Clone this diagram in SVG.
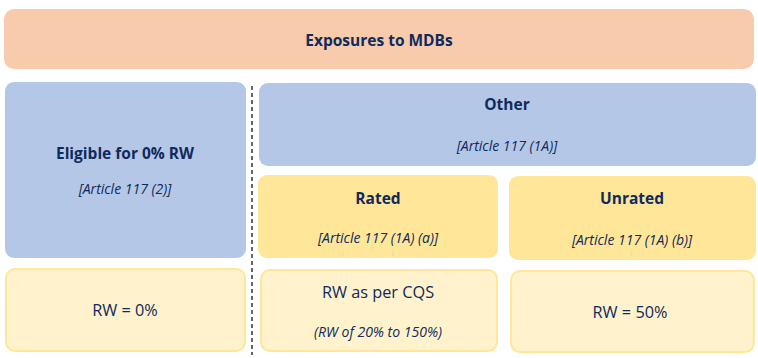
<svg xmlns="http://www.w3.org/2000/svg" width="758" height="358" viewBox="0 0 758 358">
<style>
text{font-family:"Open Sans","Noto Sans",sans-serif;fill:#0f2a5c;text-anchor:middle}
.b{font-weight:bold;font-size:15.5px}
.i{font-style:italic;font-size:14px}
.r{font-size:16.3px}
.peach{fill:#f8cbad}
.blue{fill:#b4c7e7}
.yel{fill:#ffe699}
.lt{fill:#fff2cc;stroke:#ffe699;stroke-width:2}
</style>
<rect width="758" height="358" fill="#fff"/>
<g id="top"><rect class="peach" x="4" y="9" width="750" height="60" rx="10"/><text class="b" x="379" y="46">Exposures to MDBs</text></g>
<g id="eligible"><rect class="blue" x="5" y="82" width="241" height="176" rx="9"/><text class="b" x="125" y="159">Eligible for 0% RW</text><text class="i" x="125" y="194">[Article 117 (2)]</text></g>
<g id="other"><rect class="blue" x="259" y="83" width="497" height="83" rx="9"/><text class="b" x="507" y="110">Other</text><text class="i" x="507" y="151">[Article 117 (1A)]</text></g>
<g id="rated"><rect class="yel" x="258" y="175" width="240" height="83" rx="9"/><text class="b" x="378" y="204">Rated</text><text class="i" x="378" y="243">[Article 117 (1A) (a)]</text></g>
<g id="unrated"><rect class="yel" x="509" y="176" width="247" height="84" rx="9"/><text class="b" x="632" y="204">Unrated</text><text class="i" x="632" y="245">[Article 117 (1A) (b)]</text></g>
<g id="rw0"><rect class="lt" x="6" y="269" width="239" height="82" rx="9"/><text class="r" x="125" y="316">RW = 0%</text></g>
<g id="rwcqs"><rect class="lt" x="261" y="270" width="236" height="81" rx="9"/><text class="r" x="378" y="298">RW as per CQS</text><text class="i" x="378" y="337">(RW of 20% to 150%)</text></g>
<g id="rw50"><rect class="lt" x="511" y="271" width="243" height="81" rx="9"/><text class="r" x="630" y="318">RW = 50%</text></g>
<g id="connectors"><line x1="252" y1="86" x2="252" y2="355" stroke="#000" stroke-width="1.2" stroke-dasharray="4,3"/></g>
</svg>
